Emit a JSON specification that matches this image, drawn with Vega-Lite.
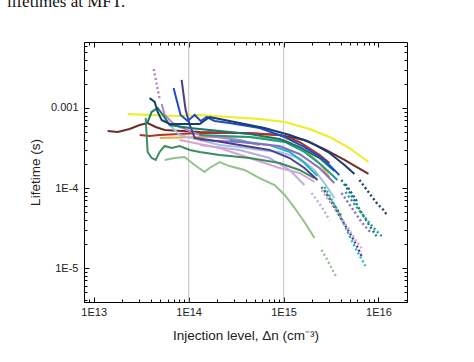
{
"$schema": "https://vega.github.io/schema/vega-lite/v6.json",
"width": 323, "height": 260,
"autosize": {"type": "none"},
"padding": {"left": 84, "top": 42, "right": 67, "bottom": 60},
"background": "white",
"title": {"text": "lifetimes at MFT.", "anchor": "start", "frame": "group", "font": "Liberation Serif", "fontSize": 17, "fontWeight": "normal", "color": "#111", "dx": -77, "offset": 29},
"config": {"view": {"stroke": "black", "strokeWidth": 1}},
"datasets": {
"grid": [{"x": 1e14}, {"x": 1e15}],
"curves": [
{"s":"A","x":2.28e13,"y":8.41e-4},{"s":"A","x":3.88e13,"y":8.18e-4},{"s":"A","x":8.04e13,"y":7.94e-4},{"s":"A","x":1.31e14,"y":8.18e-4},{"s":"A","x":2.70e14,"y":7.72e-4},{"s":"A","x":5.59e14,"y":7.29e-4},{"s":"A","x":1.03e15,"y":6.68e-4},{"s":"A","x":1.88e15,"y":5.46e-4},{"s":"A","x":3.05e15,"y":4.34e-4},{"s":"A","x":4.95e15,"y":3.16e-4},{"s":"A","x":7.85e15,"y":2.11e-4},
{"s":"B","x":1.40e13,"y":5.16e-4},{"s":"B","x":1.79e13,"y":5.01e-4},{"s":"B","x":2.39e13,"y":5.46e-4},{"s":"B","x":3.05e13,"y":6.13e-4},{"s":"B","x":3.70e13,"y":6.49e-4},{"s":"B","x":4.50e13,"y":5.79e-4},{"s":"B","x":5.59e13,"y":5.31e-4},{"s":"B","x":1.31e14,"y":5.01e-4},{"s":"B","x":3.44e14,"y":4.87e-4},{"s":"B","x":9.08e14,"y":4.60e-4},{"s":"B","x":1.66e15,"y":3.98e-4},{"s":"B","x":2.70e15,"y":3.07e-4},{"s":"B","x":4.39e15,"y":2.24e-4},{"s":"B","x":7.85e15,"y":1.50e-4},
{"s":"C","x":3.05e13,"y":4.60e-4},{"s":"C","x":3.88e13,"y":4.47e-4},{"s":"C","x":4.95e13,"y":4.60e-4},{"s":"C","x":1.31e14,"y":4.87e-4},{"s":"C","x":4.39e14,"y":4.87e-4},{"s":"C","x":9.08e14,"y":4.60e-4},{"s":"C","x":1.47e15,"y":3.76e-4},{"s":"C","x":2.39e15,"y":2.59e-4},{"s":"C","x":3.05e15,"y":2.05e-4},
{"s":"D","x":4.95e13,"y":4.22e-4},{"s":"D","x":1.31e14,"y":4.34e-4},{"s":"D","x":4.39e14,"y":4.34e-4},{"s":"D","x":1.03e15,"y":3.98e-4},{"s":"D","x":1.66e15,"y":2.99e-4},{"s":"D","x":2.39e15,"y":2.05e-4},{"s":"D","x":3.05e15,"y":1.37e-4},
{"s":"Q","x":6.31e13,"y":6.13e-4},{"s":"Q","x":8.04e13,"y":4.60e-4},{"s":"Q","x":1.31e14,"y":3.98e-4},{"s":"Q","x":2.12e14,"y":3.45e-4},{"s":"Q","x":3.44e14,"y":3.25e-4},{"s":"Q","x":5.59e14,"y":2.99e-4},{"s":"Q","x":9.08e14,"y":2.82e-4},{"s":"Q","x":1.47e15,"y":2.37e-4},{"s":"Q","x":2.12e15,"y":1.68e-4},{"s":"Q","x":2.70e15,"y":1.15e-4},{"s":"Q","x":3.44e15,"y":7.50e-5},
{"s":"M","x":1.31e14,"y":3.45e-4},{"s":"M","x":3.44e14,"y":2.99e-4},{"s":"M","x":7.12e14,"y":2.37e-4},{"s":"M","x":1.16e15,"y":1.68e-4},{"s":"M","x":1.66e15,"y":1.09e-4},
{"s":"L","x":8.04e13,"y":3.98e-4},{"s":"L","x":2.12e14,"y":3.16e-4},{"s":"L","x":4.39e14,"y":2.37e-4},{"s":"L","x":9.08e14,"y":1.78e-4},{"s":"L","x":1.47e15,"y":1.54e-4},{"s":"L","x":2.12e15,"y":1.19e-4},
{"s":"N","x":5.20e13,"y":1.12e-3},{"s":"N","x":5.59e13,"y":8.18e-4},{"s":"N","x":7.12e13,"y":6.13e-4},{"s":"N","x":1.31e14,"y":4.60e-4},{"s":"N","x":3.44e14,"y":3.98e-4},{"s":"N","x":5.59e14,"y":3.45e-4},
{"s":"P","x":5.59e13,"y":2.24e-4},{"s":"P","x":7.12e13,"y":2.37e-4},{"s":"P","x":9.08e13,"y":2.44e-4},{"s":"P","x":1.16e14,"y":1.94e-4},{"s":"P","x":1.47e14,"y":1.58e-4},{"s":"P","x":1.66e14,"y":1.78e-4},{"s":"P","x":2.12e14,"y":2.11e-4},{"s":"P","x":2.70e14,"y":1.88e-4},{"s":"P","x":3.88e14,"y":1.68e-4},{"s":"P","x":5.59e14,"y":1.33e-4},{"s":"P","x":8.04e14,"y":1.09e-4},{"s":"P","x":1.03e15,"y":8.18e-5},{"s":"P","x":1.31e15,"y":5.62e-5},{"s":"P","x":1.66e15,"y":3.76e-5},{"s":"P","x":2.12e15,"y":2.37e-5},
{"s":"O","x":3.53e13,"y":7.50e-4},{"s":"O","x":3.61e13,"y":4.60e-4},{"s":"O","x":3.70e13,"y":2.82e-4},{"s":"O","x":4.08e13,"y":2.37e-4},{"s":"O","x":4.50e13,"y":2.24e-4},{"s":"O","x":4.95e13,"y":2.82e-4},{"s":"O","x":5.59e13,"y":3.35e-4},{"s":"O","x":6.62e13,"y":3.16e-4},{"s":"O","x":8.04e13,"y":3.35e-4},{"s":"O","x":1.03e14,"y":2.99e-4},{"s":"O","x":1.31e14,"y":2.82e-4},{"s":"O","x":2.12e14,"y":2.59e-4},{"s":"O","x":4.39e14,"y":2.37e-4},{"s":"O","x":9.08e14,"y":2.05e-4},{"s":"O","x":1.47e15,"y":1.68e-4},{"s":"O","x":2.12e15,"y":1.33e-4},
{"s":"K","x":2.70e14,"y":3.98e-4},{"s":"K","x":7.12e14,"y":3.45e-4},{"s":"K","x":1.16e15,"y":2.82e-4},{"s":"K","x":1.66e15,"y":2.05e-4},{"s":"K","x":2.28e15,"y":1.41e-4},
{"s":"J","x":1.31e14,"y":3.98e-4},{"s":"J","x":3.44e14,"y":3.76e-4},{"s":"J","x":9.08e14,"y":3.35e-4},{"s":"J","x":1.47e15,"y":2.66e-4},{"s":"J","x":2.39e15,"y":1.78e-4},{"s":"J","x":3.44e15,"y":1.15e-4},
{"s":"I","x":8.44e13,"y":2.24e-3},{"s":"I","x":8.86e13,"y":1.45e-3},{"s":"I","x":9.30e13,"y":9.44e-4},{"s":"I","x":1.03e14,"y":6.13e-4},{"s":"I","x":1.16e14,"y":4.22e-4},{"s":"I","x":1.66e14,"y":3.98e-4},{"s":"I","x":3.44e14,"y":3.45e-4},{"s":"I","x":7.12e14,"y":2.99e-4},{"s":"I","x":1.16e15,"y":2.37e-4},{"s":"I","x":1.66e15,"y":1.78e-4},{"s":"I","x":2.28e15,"y":1.26e-4},
{"s":"H","x":1.31e14,"y":4.60e-4},{"s":"H","x":4.39e14,"y":4.34e-4},{"s":"H","x":1.03e15,"y":3.76e-4},{"s":"H","x":1.66e15,"y":2.82e-4},{"s":"H","x":2.51e15,"y":1.94e-4},{"s":"H","x":3.70e15,"y":1.26e-4},
{"s":"G","x":3.70e13,"y":6.68e-4},{"s":"G","x":4.08e13,"y":8.91e-4},{"s":"G","x":4.72e13,"y":1.0e-3},{"s":"G","x":5.46e13,"y":7.94e-4},{"s":"G","x":6.31e13,"y":6.13e-4},{"s":"G","x":1.03e14,"y":5.62e-4},{"s":"G","x":2.12e14,"y":5.16e-4},{"s":"G","x":4.39e14,"y":4.73e-4},{"s":"G","x":9.08e14,"y":4.10e-4},{"s":"G","x":1.47e15,"y":3.25e-4},{"s":"G","x":2.39e15,"y":2.37e-4},{"s":"G","x":3.44e15,"y":1.63e-4},
{"s":"F","x":6.95e13,"y":1.78e-3},{"s":"F","x":7.48e13,"y":1.26e-3},{"s":"F","x":8.24e13,"y":8.18e-4},{"s":"F","x":9.76e13,"y":6.88e-4},{"s":"F","x":1.16e14,"y":8.18e-4},{"s":"F","x":1.34e14,"y":6.88e-4},{"s":"F","x":1.55e14,"y":7.72e-4},{"s":"F","x":1.88e14,"y":6.88e-4},{"s":"F","x":2.70e14,"y":6.49e-4},{"s":"F","x":5.59e14,"y":5.62e-4},{"s":"F","x":1.03e15,"y":4.34e-4},{"s":"F","x":1.66e15,"y":3.25e-4},{"s":"F","x":2.70e15,"y":2.24e-4},{"s":"F","x":3.88e15,"y":1.45e-4},
{"s":"E","x":3.88e13,"y":1.33e-3},{"s":"E","x":4.39e13,"y":1.19e-3},{"s":"E","x":4.72e13,"y":8.91e-4},{"s":"E","x":5.20e13,"y":7.08e-4},{"s":"E","x":6.31e13,"y":6.31e-4},{"s":"E","x":9.08e13,"y":6.31e-4},{"s":"E","x":1.31e14,"y":6.31e-4},{"s":"E","x":1.66e14,"y":7.72e-4},{"s":"E","x":2.12e14,"y":7.29e-4},{"s":"E","x":3.44e14,"y":6.49e-4},{"s":"E","x":6.31e14,"y":5.62e-4},{"s":"E","x":1.16e15,"y":4.60e-4},{"s":"E","x":1.88e15,"y":3.76e-4},{"s":"E","x":3.05e15,"y":2.74e-4},{"s":"E","x":4.39e15,"y":1.94e-4},{"s":"E","x":5.59e15,"y":1.50e-4}
],
"tails": [
{"s":"E","x":6.31e15,"y":1.26e-4},{"s":"E","x":7.30e15,"y":1.0e-4},{"s":"E","x":8.44e15,"y":7.94e-5},{"s":"E","x":9.76e15,"y":6.31e-5},{"s":"E","x":1.13e16,"y":5.31e-5},{"s":"E","x":1.21e16,"y":4.73e-5},
{"s":"F","x":4.50e15,"y":1.12e-4},{"s":"F","x":5.20e15,"y":8.66e-5},{"s":"F","x":6.01e15,"y":6.68e-5},
{"s":"G","x":4.08e15,"y":1.26e-4},{"s":"G","x":4.95e15,"y":8.91e-5},{"s":"G","x":5.87e15,"y":6.31e-5},{"s":"G","x":6.95e15,"y":4.47e-5},{"s":"G","x":8.24e15,"y":3.25e-5},{"s":"G","x":9.53e15,"y":2.51e-5},
{"s":"H","x":4.50e15,"y":8.91e-5},{"s":"H","x":5.46e15,"y":6.49e-5},{"s":"H","x":6.62e15,"y":4.87e-5},{"s":"H","x":8.04e15,"y":3.65e-5},{"s":"H","x":9.53e15,"y":2.90e-5},{"s":"H","x":1.08e16,"y":2.51e-5},
{"s":"I","x":2.70e15,"y":9.44e-5},{"s":"I","x":3.20e15,"y":6.68e-5},{"s":"I","x":3.79e15,"y":4.73e-5},{"s":"I","x":4.50e15,"y":3.35e-5},{"s":"I","x":5.20e15,"y":2.51e-5},{"s":"I","x":6.01e15,"y":1.83e-5},{"s":"I","x":6.79e15,"y":1.33e-5},
{"s":"J","x":4.08e15,"y":8.66e-5},{"s":"J","x":4.83e15,"y":6.49e-5},{"s":"J","x":5.72e15,"y":4.87e-5},{"s":"J","x":6.62e15,"y":3.76e-5},{"s":"J","x":7.66e15,"y":3.07e-5},{"s":"J","x":8.44e15,"y":2.74e-5},
{"s":"K","x":2.70e15,"y":1.03e-4},{"s":"K","x":3.20e15,"y":7.29e-5},{"s":"K","x":3.79e15,"y":5.01e-5},{"s":"K","x":4.39e15,"y":3.45e-5},{"s":"K","x":5.07e15,"y":2.37e-5},{"s":"K","x":5.87e15,"y":1.68e-5},{"s":"K","x":6.62e15,"y":1.30e-5},{"s":"K","x":7.30e15,"y":1.06e-5},
{"s":"L","x":2.51e15,"y":9.44e-5},{"s":"L","x":2.98e15,"y":7.08e-5},{"s":"L","x":3.53e15,"y":5.31e-5},{"s":"L","x":4.18e15,"y":3.98e-5},{"s":"L","x":4.95e15,"y":2.99e-5},{"s":"L","x":5.72e15,"y":2.24e-5},{"s":"L","x":6.62e15,"y":1.78e-5},
{"s":"M","x":1.97e15,"y":8.66e-5},{"s":"M","x":2.28e15,"y":6.88e-5},{"s":"M","x":2.64e15,"y":5.31e-5},{"s":"M","x":3.05e15,"y":3.98e-5},
{"s":"N","x":4.28e13,"y":3.07e-3},{"s":"N","x":4.39e13,"y":2.66e-3},{"s":"N","x":4.50e13,"y":2.30e-3},{"s":"N","x":4.60e13,"y":2.0e-3},{"s":"N","x":4.72e13,"y":1.73e-3},{"s":"N","x":4.83e13,"y":1.50e-3},{"s":"N","x":4.95e13,"y":1.30e-3},
{"s":"O","x":2.51e15,"y":1.03e-4},{"s":"O","x":2.98e15,"y":7.72e-5},{"s":"O","x":3.53e15,"y":5.79e-5},{"s":"O","x":4.08e15,"y":4.47e-5},
{"s":"P","x":2.51e15,"y":1.68e-5},{"s":"P","x":2.90e15,"y":1.26e-5},{"s":"P","x":3.28e15,"y":9.44e-6},{"s":"P","x":3.61e15,"y":7.72e-6}
]
},
"layer": [
{"data": {"name": "grid"}, "mark": {"type": "rule", "color": "#cfcfcf", "strokeWidth": 1.3},
 "encoding": {"x": {"field": "x", "type": "quantitative", "scale": {"type": "log", "domain": [7.9e12, 2e16], "nice": false}, "axis": null}}},
{"data": {"name": "curves"}, "mark": {"type": "line", "strokeWidth": 2},
 "encoding": {
  "x": {"field": "x", "type": "quantitative", "scale": {"type": "log", "domain": [7.9e12, 2e16], "nice": false},
   "axis": {"orient": "bottom", "title": "Injection level, Δn (cm⁻³)", "grid": false,
    "values": [9e12,1e13,2e13,3e13,4e13,5e13,6e13,7e13,8e13,9e13,1e14,2e14,3e14,4e14,5e14,6e14,7e14,8e14,9e14,1e15,2e15,3e15,4e15,5e15,6e15,7e15,8e15,9e15,1e16],
    "labelExpr": "abs(log(datum.value)/LN10 - round(log(datum.value)/LN10)) < 0.001 ? '1E' + round(log(datum.value)/LN10) : ''",
    "tickSize": {"condition": {"test": "abs(log(datum.value)/LN10 - round(log(datum.value)/LN10)) < 0.001", "value": -5}, "value": -3},
    "domainColor": "black", "tickColor": "black", "labelColor": "#222", "labelFont": "Liberation Sans", "labelFontSize": 11,
    "labelPadding": 9, "labelOverlap": false, "labelFlush": false,
    "titleFont": "Liberation Sans", "titleFontSize": 13.5, "titleFontWeight": "normal", "titleColor": "#222", "titlePadding": 9}},
  "y": {"field": "y", "type": "quantitative", "scale": {"type": "log", "domain": [3.76e-6, 6.68e-3], "nice": false},
   "axis": {"orient": "left", "title": "Lifetime (s)", "grid": false,
    "values": [4e-6,5e-6,6e-6,7e-6,8e-6,9e-6,1e-5,2e-5,3e-5,4e-5,5e-5,6e-5,7e-5,8e-5,9e-5,1e-4,2e-4,3e-4,4e-4,5e-4,6e-4,7e-4,8e-4,9e-4,1e-3,2e-3,3e-3,4e-3,5e-3,6e-3],
    "labelExpr": "abs(log(datum.value)/LN10 - round(log(datum.value)/LN10)) < 0.001 ? (round(log(datum.value)/LN10) == -3 ? '0.001' : '1E' + round(log(datum.value)/LN10)) : ''",
    "tickSize": {"condition": {"test": "abs(log(datum.value)/LN10 - round(log(datum.value)/LN10)) < 0.001", "value": -5}, "value": -3},
    "domainColor": "black", "tickColor": "black", "labelColor": "#222", "labelFont": "Liberation Sans", "labelFontSize": 11,
    "labelPadding": 11, "labelOverlap": false, "labelFlush": false,
    "titleFont": "Liberation Sans", "titleFontSize": 13.5, "titleFontWeight": "normal", "titleColor": "#222", "titlePadding": 8}},
  "color": {"field": "s", "type": "nominal", "legend": null,
   "scale": {"domain": ["A","B","C","D","E","F","G","H","I","J","K","L","M","N","O","P","Q"],
    "range": ["#eeee22","#6b2c2c","#b5322a","#f2a93b","#173e6e","#1f4cc8","#127a68","#1aa08a","#4e3d8f","#8a6cc0","#1fb5c8","#d9a3d3","#b9aee0","#b67fcc","#3d8d5f","#93c38a","#a9c2dc"]}}
 }},
{"data": {"name": "tails"}, "mark": {"type": "line", "strokeWidth": 2.4, "strokeDash": [2, 2.6], "strokeCap": "butt"},
 "encoding": {
  "x": {"field": "x", "type": "quantitative", "scale": {"type": "log", "domain": [7.9e12, 2e16], "nice": false},
   "axis": {"orient": "top", "title": null, "grid": false, "labels": false, "domain": false,
    "values": [9e12,1e13,2e13,3e13,4e13,5e13,6e13,7e13,8e13,9e13,1e14,2e14,3e14,4e14,5e14,6e14,7e14,8e14,9e14,1e15,2e15,3e15,4e15,5e15,6e15,7e15,8e15,9e15,1e16],
    "tickSize": {"condition": {"test": "abs(log(datum.value)/LN10 - round(log(datum.value)/LN10)) < 0.001", "value": -5}, "value": -3},
    "tickColor": "black"}},
  "y": {"field": "y", "type": "quantitative", "scale": {"type": "log", "domain": [3.76e-6, 6.68e-3], "nice": false},
   "axis": {"orient": "right", "title": null, "grid": false, "labels": false, "domain": false,
    "values": [4e-6,5e-6,6e-6,7e-6,8e-6,9e-6,1e-5,2e-5,3e-5,4e-5,5e-5,6e-5,7e-5,8e-5,9e-5,1e-4,2e-4,3e-4,4e-4,5e-4,6e-4,7e-4,8e-4,9e-4,1e-3,2e-3,3e-3,4e-3,5e-3,6e-3],
    "tickSize": {"condition": {"test": "abs(log(datum.value)/LN10 - round(log(datum.value)/LN10)) < 0.001", "value": -5}, "value": -3},
    "tickColor": "black"}},
  "color": {"field": "s", "type": "nominal", "legend": null}
 }}
],
"resolve": {"axis": {"x": "independent", "y": "independent"}}
}
